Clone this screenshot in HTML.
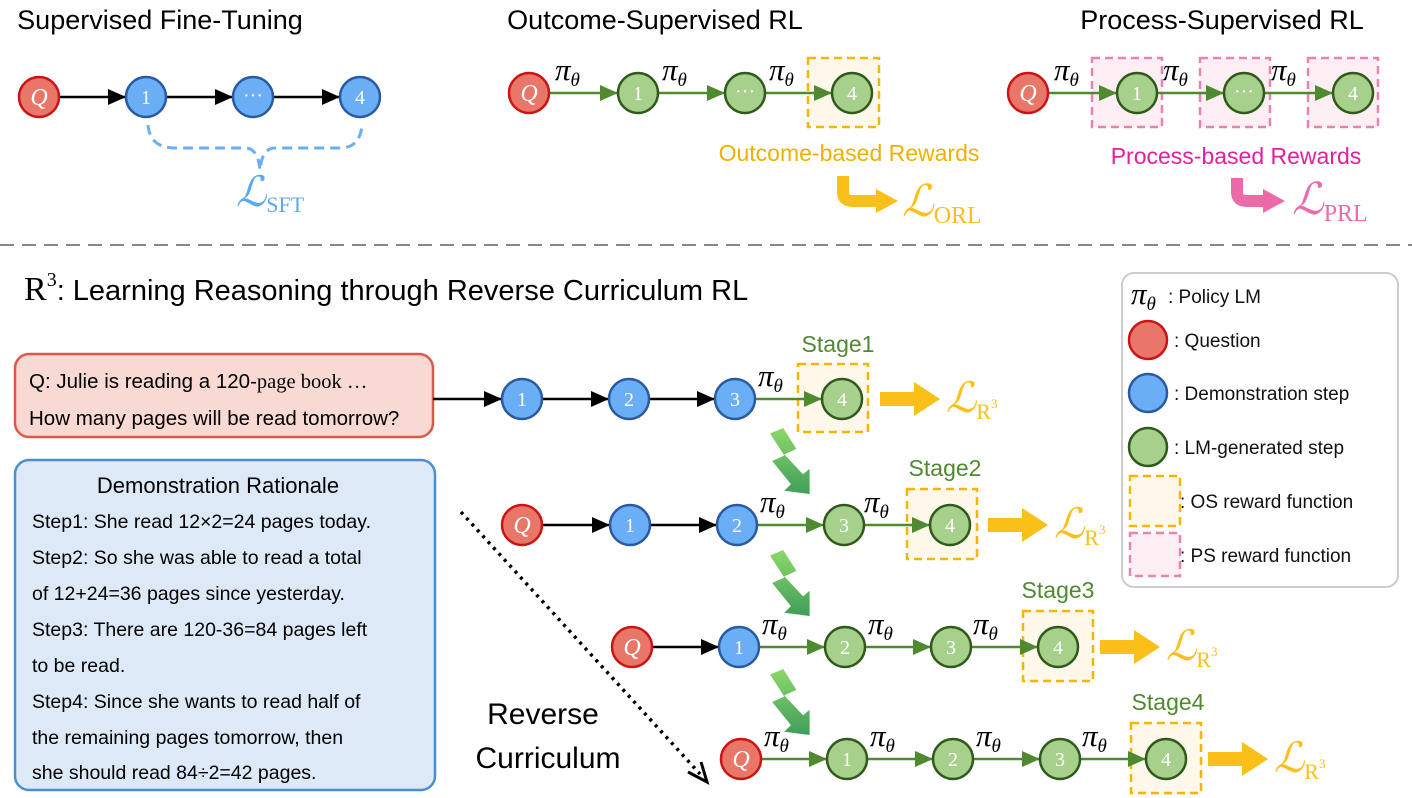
<!DOCTYPE html>
<html><head><meta charset="utf-8"><style>
html,body{margin:0;padding:0;background:#fff;}
svg{display:block;}
.t{font-family:"Liberation Sans",sans-serif;}
.m{font-family:"Liberation Serif","DejaVu Serif",serif;}
</style></head><body>
<svg width="1412" height="798" viewBox="0 0 1412 798" xmlns="http://www.w3.org/2000/svg">
<defs>
<marker id="ab" markerUnits="userSpaceOnUse" markerWidth="20" markerHeight="20" refX="18" refY="10" orient="auto"><path d="M0,2 L18,10 L0,18 Z" fill="#000"/></marker>
<marker id="ag" markerUnits="userSpaceOnUse" markerWidth="20" markerHeight="20" refX="18" refY="10" orient="auto"><path d="M0,2 L18,10 L0,18 Z" fill="#4f8a30"/></marker>
<linearGradient id="lg" x1="0" y1="0" x2="0" y2="1"><stop offset="0" stop-color="#8ed86a"/><stop offset="1" stop-color="#3f9e5a"/></linearGradient>
<g id="bolt"><polygon points="0,5 12,0 24,19 13,24 30,42 36,37 36,60 13,57 19,51 2,30 13,25" fill="url(#lg)" transform="scale(1.1)"/></g>
</defs>
<style>
.q{fill:#e8776a;stroke:#cc1414;stroke-width:2.5}
.b{fill:#6aaef5;stroke:#2a5aa0;stroke-width:2.5}
.g{fill:#a7d08c;stroke:#2f5a1c;stroke-width:2.5}
.nl{font-family:"Liberation Serif",serif;fill:#fff;font-size:20px;text-anchor:middle}
.ql{font-family:"Liberation Serif",serif;fill:#fff;font-size:24px;font-style:italic;text-anchor:middle}
.eb{stroke:#000;stroke-width:2.5;marker-end:url(#ab)}
.eg{stroke:#4f8a30;stroke-width:2.5;marker-end:url(#ag)}
.pi{font-family:"Liberation Serif","DejaVu Serif",serif;font-size:31px;font-style:italic}
.os{fill:#fdf8ea;stroke:#f7b500;stroke-width:2.5;stroke-dasharray:8 5}
.ps{fill:#fdeef3;stroke:#e882b0;stroke-width:2.5;stroke-dasharray:8 5}
.st{font-family:"Liberation Sans",sans-serif;font-size:23px;fill:#4f8a30;text-anchor:middle}
.lt{font-family:"Liberation Sans",sans-serif;font-size:19px;fill:#111}
</style>

<!-- Titles -->
<text class="t" x="160" y="29" font-size="27" text-anchor="middle">Supervised Fine-Tuning</text>
<text class="t" x="655" y="29" font-size="27" text-anchor="middle">Outcome-Supervised RL</text>
<text class="t" x="1222" y="29" font-size="27" text-anchor="middle">Process-Supervised RL</text>

<!-- SFT -->
<line class="eb" x1="59" y1="97" x2="126" y2="97"/>
<line class="eb" x1="166" y1="97" x2="233" y2="97"/>
<line class="eb" x1="273" y1="97" x2="340" y2="97"/>
<circle class="q" cx="39" cy="97" r="20"/><text class="ql" x="39" y="105">Q</text>
<circle class="b" cx="146" cy="97" r="20"/><text class="nl" x="146" y="104">1</text>
<circle class="b" cx="253" cy="97" r="20"/><text class="nl" x="253" y="102">···</text>
<circle class="b" cx="360" cy="97" r="20"/><text class="nl" x="360" y="104">4</text>
<path d="M148,125 Q150,148 175,148 L245,148 Q258,148 260,170 Q262,148 275,148 L340,148 Q360,148 362,125" fill="none" stroke="#6aaef5" stroke-width="3" stroke-dasharray="10 6"/>
<text class="m" x="236" y="206" font-size="42" font-style="italic" fill="#5aa9ef">ℒ<tspan font-size="22" font-style="normal" dy="6">SFT</tspan></text>

<!-- ORL -->
<rect class="os" x="808" y="58" width="71" height="69"/>
<line class="eg" x1="549" y1="93" x2="618" y2="93"/>
<line class="eg" x1="658" y1="93" x2="725" y2="93"/>
<line class="eg" x1="765" y1="93" x2="832" y2="93"/>
<text class="pi" x="555" y="80">π<tspan font-size="19" dy="6">θ</tspan></text>
<text class="pi" x="662" y="80">π<tspan font-size="19" dy="6">θ</tspan></text>
<text class="pi" x="769" y="80">π<tspan font-size="19" dy="6">θ</tspan></text>
<circle class="q" cx="529" cy="93" r="20"/><text class="ql" x="529" y="101">Q</text>
<circle class="g" cx="638" cy="93" r="20"/><text class="nl" x="638" y="100">1</text>
<circle class="g" cx="745" cy="93" r="20"/><text class="nl" x="745" y="98">···</text>
<circle class="g" cx="852" cy="93" r="20"/><text class="nl" x="852" y="100">4</text>
<text class="t" x="849" y="161" font-size="23" fill="#f0b000" text-anchor="middle">Outcome-based Rewards</text>
<path d="M843,176 L843,192 Q843,201 853,201 L878,201" fill="none" stroke="#fbbf1a" stroke-width="12"/>
<path d="M876,189 L898,201 L876,213 Z" fill="#fbbf1a"/>
<text class="m" x="902" y="216" font-size="44" font-style="italic" fill="#fbbf1a">ℒ<tspan font-size="24" font-style="normal" dy="7">ORL</tspan></text>

<!-- PRL -->
<rect class="ps" x="1092" y="58" width="70" height="69"/>
<rect class="ps" x="1200" y="58" width="70" height="69"/>
<rect class="ps" x="1308" y="58" width="70" height="69"/>
<line class="eg" x1="1048" y1="93" x2="1117" y2="93"/>
<line class="eg" x1="1157" y1="93" x2="1224" y2="93"/>
<line class="eg" x1="1264" y1="93" x2="1333" y2="93"/>
<text class="pi" x="1054" y="80">π<tspan font-size="19" dy="6">θ</tspan></text>
<text class="pi" x="1163" y="80">π<tspan font-size="19" dy="6">θ</tspan></text>
<text class="pi" x="1271" y="80">π<tspan font-size="19" dy="6">θ</tspan></text>
<circle class="q" cx="1028" cy="93" r="20"/><text class="ql" x="1028" y="101">Q</text>
<circle class="g" cx="1137" cy="93" r="20"/><text class="nl" x="1137" y="100">1</text>
<circle class="g" cx="1244" cy="93" r="20"/><text class="nl" x="1244" y="98">···</text>
<circle class="g" cx="1353" cy="93" r="20"/><text class="nl" x="1353" y="100">4</text>
<text class="t" x="1236" y="164" font-size="23" fill="#e020a0" text-anchor="middle">Process-based Rewards</text>
<path d="M1237,178 L1237,192 Q1237,201 1247,201 L1265,201" fill="none" stroke="#ec6aa8" stroke-width="12"/>
<path d="M1263,189 L1285,201 L1263,213 Z" fill="#ec6aa8"/>
<text class="m" x="1292" y="214" font-size="44" font-style="italic" fill="#ec6aa8">ℒ<tspan font-size="24" font-style="normal" dy="7">PRL</tspan></text>

<!-- separator -->
<line x1="0" y1="245" x2="1412" y2="245" stroke="#888" stroke-width="2" stroke-dasharray="14 8"/>

<!-- R3 title -->
<text x="24" y="300" font-size="34"><tspan class="m">R</tspan><tspan class="m" font-size="20" dy="-14">3</tspan><tspan class="t" font-size="29" dy="14">: Learning Reasoning through Reverse Curriculum RL</tspan></text>

<!-- Q box -->
<rect x="15" y="354" width="418" height="83" rx="14" fill="#f9d9d4" stroke="#dd5a4a" stroke-width="2.5"/>
<text class="t" x="29" y="388" font-size="20.5">Q: Julie is reading a 120-<tspan class="m">page book …</tspan></text>
<text class="t" x="29" y="425" font-size="20.5">How many pages will be read tomorrow?</text>

<!-- Demo box -->
<rect x="15" y="460" width="420" height="330" rx="14" fill="#dde9f6" stroke="#4a8fd0" stroke-width="2.5"/>
<text class="t" x="218" y="493" font-size="22" text-anchor="middle">Demonstration Rationale</text>
<g class="t" font-size="19.5">
<text x="32" y="528">Step1: She read 12×2=24 pages today.</text>
<text x="32" y="564">Step2: So she was able to read a total</text>
<text x="32" y="600">of 12+24=36 pages since yesterday.</text>
<text x="32" y="636">Step3: There are 120-36=84 pages left</text>
<text x="32" y="672">to be read.</text>
<text x="32" y="708">Step4: Since she wants to read half of</text>
<text x="32" y="744">the remaining pages tomorrow, then</text>
<text x="32" y="779">she should read 84÷2=42 pages.</text>
</g>

<!-- Reverse curriculum -->
<text class="t" x="543" y="724" font-size="30" text-anchor="middle">Reverse</text>
<text class="t" x="548" y="768" font-size="30" text-anchor="middle">Curriculum</text>
<line x1="461" y1="512" x2="700" y2="774" stroke="#000" stroke-width="3.5" stroke-dasharray="3 5"/>
<path d="M688,772 L707,782 L701,762" fill="none" stroke="#000" stroke-width="3"/>

<!-- Row1 y=399 -->
<rect class="os" x="798" y="364" width="70" height="68"/>
<text class="st" x="838" y="352">Stage1</text>
<line class="eb" x1="433" y1="399" x2="502" y2="399"/>
<line class="eb" x1="542" y1="399" x2="609" y2="399"/>
<line class="eb" x1="649" y1="399" x2="715" y2="399"/>
<line class="eg" x1="755" y1="399" x2="822" y2="399"/>
<text class="pi" x="758" y="386">π<tspan font-size="19" dy="6">θ</tspan></text>
<circle class="b" cx="522" cy="399" r="20"/><text class="nl" x="522" y="406">1</text>
<circle class="b" cx="629" cy="399" r="20"/><text class="nl" x="629" y="406">2</text>
<circle class="b" cx="735" cy="399" r="20"/><text class="nl" x="735" y="406">3</text>
<circle class="g" cx="842" cy="399" r="20"/><text class="nl" x="842" y="406">4</text>
<path d="M880,392 L914,392 L914,382 L940,399 L914,416 L914,406 L880,406 Z" fill="#fbbf1a"/>
<text class="m" x="946" y="412" font-size="42" font-style="italic" fill="#fbbf1a">ℒ<tspan font-size="22" font-style="normal" dy="7">R</tspan><tspan font-size="13" font-style="normal" dy="-11">3</tspan></text>

<use href="#bolt" x="770" y="428"/>

<!-- Row2 y=525 -->
<rect class="os" x="907" y="489" width="70" height="70"/>
<text class="st" x="945" y="476">Stage2</text>
<line class="eb" x1="542" y1="525" x2="610" y2="525"/>
<line class="eb" x1="650" y1="525" x2="717" y2="525"/>
<line class="eg" x1="757" y1="525" x2="824" y2="525"/>
<line class="eg" x1="864" y1="525" x2="930" y2="525"/>
<text class="pi" x="760" y="512">π<tspan font-size="19" dy="6">θ</tspan></text>
<text class="pi" x="864" y="512">π<tspan font-size="19" dy="6">θ</tspan></text>
<circle class="q" cx="522" cy="525" r="20"/><text class="ql" x="522" y="533">Q</text>
<circle class="b" cx="630" cy="525" r="20"/><text class="nl" x="630" y="532">1</text>
<circle class="b" cx="737" cy="525" r="20"/><text class="nl" x="737" y="532">2</text>
<circle class="g" cx="844" cy="525" r="20"/><text class="nl" x="844" y="532">3</text>
<circle class="g" cx="950" cy="525" r="20"/><text class="nl" x="950" y="532">4</text>
<path d="M988,518 L1022,518 L1022,508 L1048,525 L1022,542 L1022,532 L988,532 Z" fill="#fbbf1a"/>
<text class="m" x="1054" y="538" font-size="42" font-style="italic" fill="#fbbf1a">ℒ<tspan font-size="22" font-style="normal" dy="7">R</tspan><tspan font-size="13" font-style="normal" dy="-11">3</tspan></text>

<use href="#bolt" x="770" y="550"/>

<!-- Row3 y=647 -->
<rect class="os" x="1023" y="611" width="70" height="70"/>
<text class="st" x="1058" y="598">Stage3</text>
<line class="eb" x1="652" y1="647" x2="719" y2="647"/>
<line class="eg" x1="759" y1="647" x2="825" y2="647"/>
<line class="eg" x1="865" y1="647" x2="931" y2="647"/>
<line class="eg" x1="971" y1="647" x2="1038" y2="647"/>
<text class="pi" x="762" y="634">π<tspan font-size="19" dy="6">θ</tspan></text>
<text class="pi" x="868" y="634">π<tspan font-size="19" dy="6">θ</tspan></text>
<text class="pi" x="973" y="634">π<tspan font-size="19" dy="6">θ</tspan></text>
<circle class="q" cx="632" cy="647" r="20"/><text class="ql" x="632" y="655">Q</text>
<circle class="b" cx="739" cy="647" r="20"/><text class="nl" x="739" y="654">1</text>
<circle class="g" cx="845" cy="647" r="20"/><text class="nl" x="845" y="654">2</text>
<circle class="g" cx="951" cy="647" r="20"/><text class="nl" x="951" y="654">3</text>
<circle class="g" cx="1058" cy="647" r="20"/><text class="nl" x="1058" y="654">4</text>
<path d="M1100,640 L1134,640 L1134,630 L1160,647 L1134,664 L1134,654 L1100,654 Z" fill="#fbbf1a"/>
<text class="m" x="1166" y="660" font-size="42" font-style="italic" fill="#fbbf1a">ℒ<tspan font-size="22" font-style="normal" dy="7">R</tspan><tspan font-size="13" font-style="normal" dy="-11">3</tspan></text>

<use href="#bolt" x="770" y="669"/>

<!-- Row4 y=759 -->
<rect class="os" x="1131" y="723" width="70" height="70"/>
<text class="st" x="1168" y="710">Stage4</text>
<line class="eg" x1="761" y1="759" x2="827" y2="759"/>
<line class="eg" x1="867" y1="759" x2="933" y2="759"/>
<line class="eg" x1="973" y1="759" x2="1040" y2="759"/>
<line class="eg" x1="1080" y1="759" x2="1146" y2="759"/>
<text class="pi" x="764" y="746">π<tspan font-size="19" dy="6">θ</tspan></text>
<text class="pi" x="870" y="746">π<tspan font-size="19" dy="6">θ</tspan></text>
<text class="pi" x="976" y="746">π<tspan font-size="19" dy="6">θ</tspan></text>
<text class="pi" x="1082" y="746">π<tspan font-size="19" dy="6">θ</tspan></text>
<circle class="q" cx="741" cy="759" r="20"/><text class="ql" x="741" y="767">Q</text>
<circle class="g" cx="847" cy="759" r="20"/><text class="nl" x="847" y="766">1</text>
<circle class="g" cx="953" cy="759" r="20"/><text class="nl" x="953" y="766">2</text>
<circle class="g" cx="1060" cy="759" r="20"/><text class="nl" x="1060" y="766">3</text>
<circle class="g" cx="1166" cy="759" r="20"/><text class="nl" x="1166" y="766">4</text>
<path d="M1208,752 L1242,752 L1242,742 L1268,759 L1242,776 L1242,766 L1208,766 Z" fill="#fbbf1a"/>
<text class="m" x="1274" y="772" font-size="42" font-style="italic" fill="#fbbf1a">ℒ<tspan font-size="22" font-style="normal" dy="7">R</tspan><tspan font-size="13" font-style="normal" dy="-11">3</tspan></text>

<!-- Legend -->
<rect x="1122" y="273" width="276" height="314" rx="12" fill="#fff" stroke="#cccccc" stroke-width="2"/>
<text class="pi" x="1131" y="304">π<tspan font-size="19" dy="6">θ</tspan></text>
<text class="lt" x="1168" y="303">: Policy LM</text>
<circle class="q" cx="1148" cy="340" r="19"/><text class="lt" x="1174" y="347">: Question</text>
<circle class="b" cx="1148" cy="393" r="19"/><text class="lt" x="1174" y="400">: Demonstration step</text>
<circle class="g" cx="1148" cy="447" r="19"/><text class="lt" x="1174" y="454">: LM-generated step</text>
<rect class="os" x="1130" y="476" width="50" height="50"/><text class="lt" x="1180" y="508">: OS reward function</text>
<rect class="ps" x="1130" y="533" width="50" height="43"/><text class="lt" x="1180" y="562">: PS reward function</text>
</svg>
</body></html>
